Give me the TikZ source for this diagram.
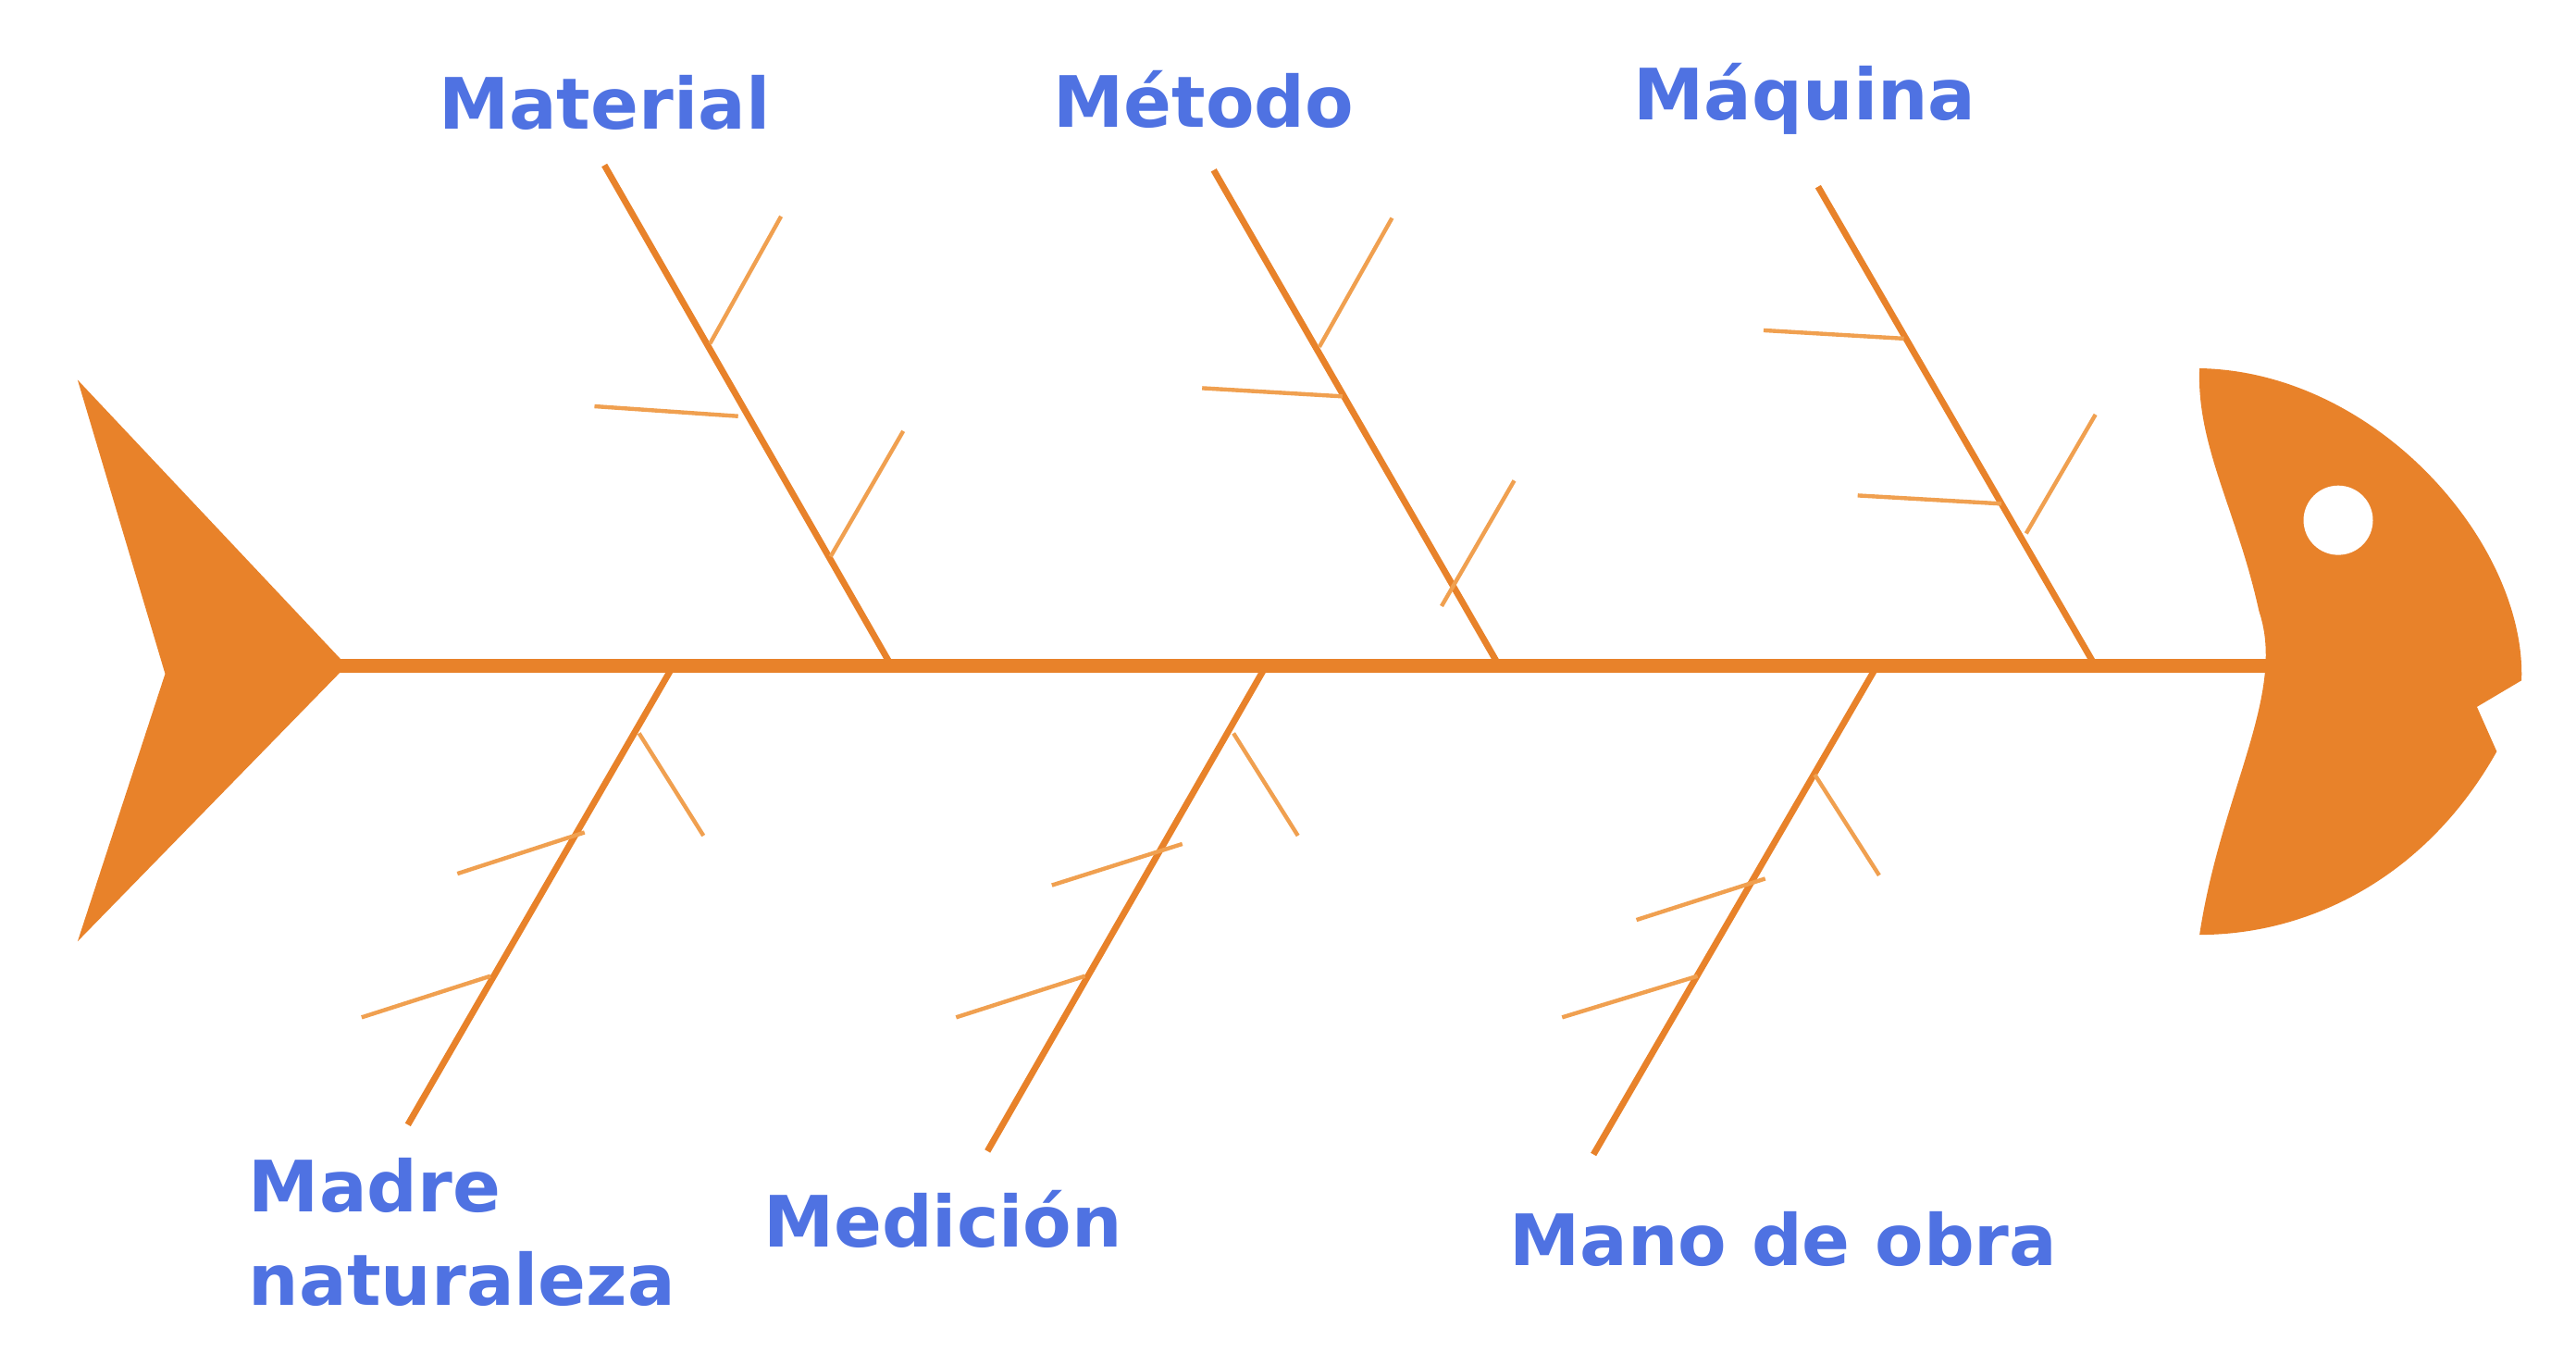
\documentclass[tikz,border=0pt]{standalone}
\usepackage{fontspec}
\setmainfont{DejaVu Sans}
\definecolor{fish}{HTML}{E8822A}
\definecolor{fishl}{HTML}{F0A050}
\definecolor{lbl}{HTML}{4F72E2}
\begin{document}
\begin{tikzpicture}[x=0.01cm,y=-0.01cm,
  bone/.style={draw=fish,line width=1.1pt},
  sub/.style={draw=fishl,line width=0.7pt},
  lab/.style={text=lbl,font=\fontsize{12.2}{16.2}\selectfont\bfseries,inner sep=0pt}]
\useasboundingbox (0,0) rectangle (1560,826.5);
% tail
\fill[fish] (47,230) -- (210,403) -- (47,570) -- (100,408) -- cycle;
% spine
\draw[fish,line width=2.4pt] (205,403) -- (1372,403);
% head
\fill[fish] (1332,223) .. controls (1440,225) and (1530,330) .. (1527,412)
  -- (1500,428) -- (1512,455) .. controls (1470,530) and (1400,566) .. (1332,566)
  .. controls (1345,480) and (1385,420) .. (1368,370)
  .. controls (1355,310) and (1330,270) .. (1332,223) -- cycle;
\fill[white] (1416,315) circle (21);
% top bones
\draw[bone] (366,100) -- (538,400);
\draw[sub] (430,208)--(473,131) (360,246)--(447,252) (503,337)--(547,261);
\draw[bone] (735,103) -- (906,400);
\draw[sub] (799,210)--(843,132) (728,235)--(813,240) (873,367)--(917,291);
\draw[bone] (1101,113) -- (1267,400);
\draw[sub] (1068,200)--(1153,205) (1125,300)--(1212,305) (1227,323)--(1269,251);
% bottom bones
\draw[bone] (406,406) -- (247,681);
\draw[sub] (387,444)--(426,506) (277,529)--(354,504) (219,616)--(297,591);
\draw[bone] (765,406) -- (598,697);
\draw[sub] (747,444)--(786,506) (637,536)--(716,511) (579,616)--(657,591);
\draw[bone] (1135,406) -- (965,699);
\draw[sub] (1099,469)--(1138,530) (991,557)--(1069,532) (946,616)--(1028,591);
% labels
\node[lab] (material) at (366,62) {Material};
\node[lab] (metodo) at (729,60) {Método};
\node[lab] (maquina) at (1093,60) {Máquina};
\node[lab,anchor=west,align=left] (madre) at (150,746) {Madre\\naturaleza};
\node[lab] (medicion) at (571,738) {Medición};
\node[lab] (mano) at (1080,750) {Mano de obra};
\end{tikzpicture}
\end{document}
